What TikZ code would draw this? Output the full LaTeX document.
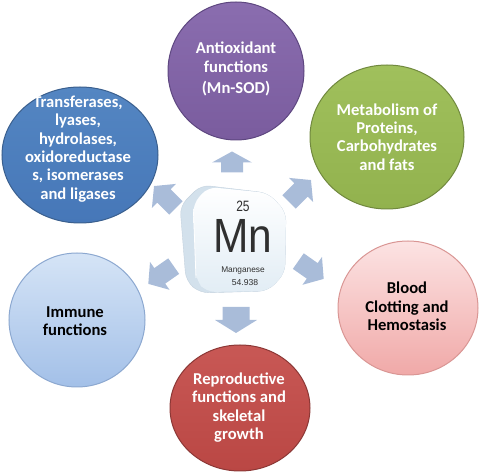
\documentclass[tikz,border=0pt]{standalone}
\usepackage{fontspec}
\setmainfont{Carlito}
\newfontfamily\arialf{Liberation Sans}
\usetikzlibrary{shapes.geometric}
\definecolor{purpT}{HTML}{8A6DAF}\definecolor{purpB}{HTML}{7A5C9E}\definecolor{purpE}{HTML}{5E4780}
\definecolor{blueT}{HTML}{5486C2}\definecolor{blueB}{HTML}{4677B8}\definecolor{blueE}{HTML}{3A5F8E}
\definecolor{grnT}{HTML}{A0C05C}\definecolor{grnB}{HTML}{92B24E}\definecolor{grnE}{HTML}{71893F}
\definecolor{immT}{HTML}{D5E4F6}\definecolor{immB}{HTML}{A3C0E8}\definecolor{immE}{HTML}{8CA8D0}
\definecolor{pnkT}{HTML}{FCE3E3}\definecolor{pnkB}{HTML}{F0A9A8}\definecolor{pnkE}{HTML}{D99694}
\definecolor{redT}{HTML}{C85855}\definecolor{redB}{HTML}{BA4744}\definecolor{redE}{HTML}{8C3836}
\definecolor{arrowc}{HTML}{A9BCD9}
\definecolor{tileside}{HTML}{D3E1EC}
\definecolor{tilebot}{HTML}{E2EDF5}
\definecolor{tileedge}{HTML}{C4D2DE}
\definecolor{tiletext}{HTML}{2F2F2F}
% block arrow: x, y, angle, length, shaft width, head width, head length
\newcommand\blkarrow[7]{%
  \fill[blkarr, shift={(#1,#2)}, rotate=#3]
    ({-#4/2},{#5/2}) -- ({#4/2-#7},{#5/2}) -- ({#4/2-#7},{#6/2}) -- ({#4/2},0)
    -- ({#4/2-#7},{-#6/2}) -- ({#4/2-#7},{-#5/2}) -- ({-#4/2},{-#5/2}) -- cycle;}
\begin{document}
\begin{tikzpicture}[x=1pt,y=-1pt,
  bub/.style={ellipse, inner sep=0pt, line width=1pt},
  lab/.style={align=center, font=\fontsize{16.6}{18.3}\selectfont\bfseries},
  blkarr/.style={fill=arrowc},
  tiletxt/.style={inner sep=0pt, text=tiletext}]
\useasboundingbox (0,0) rectangle (480,473);

% bubbles
\node[bub, draw=purpE, top color=purpT, bottom color=purpB, minimum width=136pt, minimum height=138pt] (anti) at (236,71) {};
\node[bub, draw=blueE, top color=blueT, bottom color=blueB, minimum width=156pt, minimum height=136pt] (trans) at (80,155) {};
\node[bub, draw=grnE, top color=grnT, bottom color=grnB, minimum width=154pt, minimum height=144pt] (meta) at (387,137) {};
\node[bub, draw=immE, top color=immT, bottom color=immB, minimum width=136pt, minimum height=134pt] (imm) at (77,320) {};
\node[bub, draw=pnkE, top color=pnkT, bottom color=pnkB, minimum width=140pt, minimum height=134pt] (blood) at (408,308) {};
\node[bub, draw=redE, top color=redT, bottom color=redB, minimum width=140pt, minimum height=126pt] (repr) at (240,408) {};

% labels
\node[lab, text=white] (tAnti) at (236,69) {Antioxidant\\functions\\[3pt](Mn-SOD)};
\node[lab, text=white] (tTrans) at (78,149) {Transferases,\\lyases,\\hydrolases,\\oxidoreductase\\s, isomerases\\and ligases};
\node[lab, text=white] (tMeta) at (387,137) {Metabolism of\\Proteins,\\Carbohydrates\\and fats};
\node[lab, text=black] (tImm) at (75,321) {Immune\\functions};
\node[lab, text=black] (tBlood) at (407,306.5) {Blood\\Clotting and\\Hemostasis};
\node[lab, text=white] (tRepr) at (239,407.5) {Reproductive\\functions and\\skeletal\\growth};

% block arrows
\blkarrow{232}{162}{90}{21}{22}{40}{11}
\blkarrow{236}{320}{-90}{26}{27}{42}{13}
\blkarrow{165}{197}{135}{31}{19}{34}{14}
\blkarrow{300}{191}{45}{31}{19}{34}{14}
\blkarrow{161}{275}{215}{31}{19}{34}{14}
\blkarrow{311}{270}{-35}{31}{19}{34}{14}

% Mn tile
\fill[tileside, draw=tileedge, line width=0.4pt, rounded corners=9pt]
  (201,185) -- (268,193) -- (286,212) -- (285,273) -- (268,291) -- (200,293) -- (186,281) -- (180,206) -- cycle;
\shade[top color=white, bottom color=tilebot, rounded corners=9pt]
  (208,187) -- (268,193) -- (286,212) -- (285,273) -- (268,291) -- (206,292) -- (196,280) -- (193,204) -- cycle;
\draw[white, line width=0.8pt] (193.5,212) -- (196,278);

\node[tiletxt, font=\arialf\fontsize{15}{15}\selectfont] (n25) at (243,206) {\scalebox{0.8}[1]{25}};
\node[tiletxt, font=\arialf\fontsize{48}{48}\selectfont] (nMn) at (243,236) {\scalebox{0.885}[1]{Mn}};
\node[tiletxt, font=\arialf\fontsize{8.3}{9}\selectfont] (nName) at (243,271) {Manganese};
\node[tiletxt, font=\arialf\fontsize{8.6}{9}\selectfont] (nMass) at (245,282.5) {54.938};
\end{tikzpicture}
\end{document}
